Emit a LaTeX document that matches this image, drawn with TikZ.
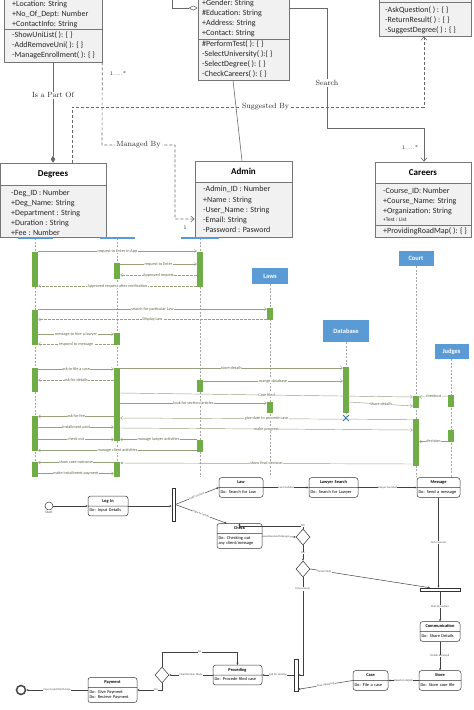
\documentclass[tikz,border=0pt]{standalone}
\usepackage{fontspec}
\setsansfont{Carlito}
\usetikzlibrary{arrows.meta}
\usetikzlibrary{calc, fit, shapes.geometric, shapes.multipart, shapes.misc}

\definecolor{boxline}{RGB}{118,118,118}
\definecolor{boxfill}{RGB}{241,241,241}
\definecolor{relline}{RGB}{105,105,105}
\definecolor{seqblue}{RGB}{91,155,213}
\definecolor{actgreen}{RGB}{112,173,71}
\definecolor{msgline}{RGB}{150,160,125}
\definecolor{msgtext}{RGB}{95,105,75}
\definecolor{lifegray}{RGB}{165,165,165}
\definecolor{xblue}{RGB}{46,117,182}

\begin{document}
\begin{tikzpicture}[x=1pt, y=-1pt,
    classbox/.style={draw=boxline, fill=boxfill, line width=0.6pt, inner sep=0pt},
    classhead/.style={draw=boxline, fill=white, line width=0.6pt},
    attr/.style={anchor=west, inner sep=0pt, text=black!85, font=\sffamily\fontsize{8}{9}\selectfont},
    ctitle/.style={inner sep=0pt, font=\sffamily\bfseries\fontsize{9}{10}\selectfont},
    rel/.style={draw=relline, line width=0.6pt},
    dep/.style={rel, dash pattern=on 3pt off 2pt},
    rellabel/.style={fill=white, inner sep=1pt, text=black!85, font=\fontsize{7.5}{9}\selectfont},
    mult/.style={inner sep=0pt, text=black!85, font=\fontsize{5.5}{6}\selectfont},
    lifeline/.style={draw=lifegray, dash pattern=on 2pt off 1.5pt, line width=0.5pt},
    seqhead/.style={fill=seqblue, text=white, inner sep=0pt, font=\sffamily\bfseries\fontsize{6.5}{7}\selectfont},
    activation/.style={fill=actgreen, minimum width=6pt, inner sep=0pt},
    msg/.style={draw=msgline, line width=0.45pt, -{Straight Barb[length=2pt, width=3.2pt]}},
    ret/.style={msg, dash pattern=on 2.5pt off 1.5pt},
    msglabel/.style={fill=white, inner sep=0.5pt, text=msgtext, font=\sffamily\fontsize{4.2}{5}\selectfont},
    actstate/.style={rectangle split, rectangle split parts=2, draw=black!80, fill=white, rounded corners=2.5pt, line width=0.5pt, inner xsep=1.5pt, inner ysep=2pt, font=\sffamily\fontsize{4.4}{5.3}\selectfont},
    syncbar/.style={draw=black!80, fill=white, line width=0.5pt, inner sep=0pt},
    choice/.style={diamond, draw=black!80, fill=white, line width=0.5pt, minimum width=14pt, minimum height=16pt, inner sep=0pt},
    flow/.style={draw=black!75, line width=0.5pt, -{Stealth[length=2.2pt, width=2pt]}},
    flowlabel/.style={fill=white, inner sep=0.4pt, text=black!70, font=\sffamily\fontsize{2.8}{3.2}\selectfont}]

\useasboundingbox (0,0) rectangle (474,710);
\clip (0,0) rectangle (474,710);

% ---------- class diagram ----------
\node[classbox, fit={(4,-12) (102,62)}] (uni) {}; % university
\draw[boxline, line width=0.6pt] (4,29) -- (102,29);
\node[attr] (uni1) at (12,4) {+Location: String};
\node[attr] (uni2) at (12,14) {+No\_Of\_Dept: Number};
\node[attr] (uni3) at (12,24) {+ContactInfo: String};
\node[attr] (uni4) at (12,35) {-ShowUniList( ): \{ \}};
\node[attr] (uni5) at (12,45) {-AddRemoveUni( ): \{ \}};
\node[attr] (uni6) at (12,55) {-ManageEnrollment( ): \{ \}};

\node[classbox, fit={(198,-12) (289,80)}] (user) {}; % user
\draw[boxline, line width=0.6pt] (198,39) -- (289,39);
\node[attr] (user1) at (202,3) {+Gender: String};
\node[attr] (user2) at (202,13) {\#Education: String};
\node[attr] (user3) at (202,23) {+Address: String};
\node[attr] (user4) at (202,33) {+Contact: String};
\node[attr] (user5) at (202,44) {\#PerformTest( ): \{ \}};
\node[attr] (user6) at (202,54) {-SelectUniversity( ):\{ \}};
\node[attr] (user7) at (202,64) {-SelectDegree( ): \{ \}};
\node[attr] (user8) at (202,74) {-CheckCareers( ): \{ \}};

\node[classbox, fit={(379,-12) (471,36)}] (quiz) {}; % questionnaire
\draw[boxline, line width=0.6pt] (379,2.5) -- (471,2.5);
\node[attr] (quiz1) at (385,10) {-AskQuestion( ) : \{ \}};
\node[attr] (quiz2) at (385,20) {-ReturnResult( ) : \{ \}};
\node[attr] (quiz3) at (385,30) {-SuggestDegree( ) : \{ \}};

\node[classbox, fit={(0.5,163) (106,237)}] (degrees) {}; % degrees
\draw[classhead] (0.5,163) rectangle (106,185);
\node[ctitle] (degt) at (53,174) {Degrees};
\node[attr] (deg1) at (11,193) {-Deg\_ID : Number};
\node[attr] (deg2) at (11,203) {+Deg\_Name: String};
\node[attr] (deg3) at (11,213) {+Department : String};
\node[attr] (deg4) at (11,223) {+Duration : String};
\node[attr] (deg5) at (11,233) {+Fee : Number};

\node[classbox, fit={(195,161) (292,237)}] (admin) {}; % admin
\draw[classhead] (195,161) rectangle (292,182);
\node[ctitle] (admt) at (243.5,171.5) {Admin};
\node[attr] (adm1) at (203,189) {-Admin\_ID : Number};
\node[attr] (adm2) at (203,200) {+Name : String};
\node[attr] (adm3) at (203,210) {-User\_Name : String};
\node[attr] (adm4) at (203,220) {-Email: String};
\node[attr] (adm5) at (203,230) {-Password : Pasword};

\node[classbox, fit={(375,162) (471,237)}] (careers) {}; % careers
\draw[classhead] (375,162) rectangle (471,183);
\draw[boxline, line width=0.6pt] (375,225) -- (471,225);
\node[ctitle] (cart) at (423,172.5) {Careers};
\node[attr] (car1) at (383,191) {-Course\_ID: Number};
\node[attr] (car2) at (383,201) {+Course\_Name: String};
\node[attr] (car3) at (383,211) {+Organization: String};
\node[attr, font=\sffamily\fontsize{5.5}{6}\selectfont] (car4) at (383,219.5) {+Test : List};
\node[attr] (car5) at (383,231) {+ProvidingRoadMap( ): \{ \}};

% relations
\coordinate (partx) at (53,100);
\draw[rel, {Diamond[length=7pt, width=4.5pt]}-] (degrees.north -| partx) -- node[rellabel, pos=0.67] {Is a Part Of} (uni.south -| partx);

\coordinate (sugg1) at (72,107);
\coordinate (sugg2) at (424,107);
\draw[dep, -{Straight Barb[length=3.5pt, width=6pt]}] (degrees.north -| sugg1) -- (sugg1) -- node[rellabel, pos=0.55] {Suggested By} (sugg2) -- (quiz.south -| sugg2);

\coordinate (mng1) at (102,145);
\coordinate (mng2) at (175,219);
\draw[dep, -{Straight Barb[length=3.5pt, width=6pt]}] (uni.south east) -- (mng1) -| node[rellabel, pos=0.25] {Managed By} (mng2) -- (admin.west |- mng2);
\node[mult] (mlt1) at (118,73) {1.....*};
\node[mult] (mlt2) at (185,228) {1};

\coordinate (srch1) at (327,8);
\coordinate (srch2) at (424,128);
\draw[rel, -{Straight Barb[length=3.5pt, width=6pt]}] (user.east |- srch1) -- (srch1) -- node[rellabel, pos=0.625] {Search} (srch1 |- srch2) -- (srch2) -- (careers.north -| srch2);
\node[mult] (mlt3) at (410,147) {1.....*};

\coordinate (agg) at (172,-5);
\draw[rel, -{Diamond[open, length=9pt, width=5pt]}] (agg) |- (user.west |- srch1);
\draw[rel] ([xshift=-10.5pt]user.south) -- ([xshift=-1.5pt]admin.north);

% ---------- sequence diagram ----------
\begin{scope}
\clip (0,236) rectangle (474,476.5);
\coordinate (hd1) at (35,238);
\coordinate (hd2) at (117,238);
\coordinate (hd3) at (200,238);
\coordinate (seqend) at (0,478);
\node[seqhead, minimum width=36pt, minimum height=16pt] (laws) at (270,276) {Laws};
\node[seqhead, minimum width=35pt, minimum height=15pt] (court) at (416,258.5) {Court};
\node[seqhead, minimum width=46pt, minimum height=22pt] (db) at (346,331) {Database};
\node[seqhead, minimum width=34pt, minimum height=15pt] (judges) at (451.5,351.5) {Judges};
\node[cross out, draw=xblue, line width=0.9pt, minimum size=5pt, inner sep=0pt] (dbx) at (346,418) {};

\draw[lifeline] (hd1) -- (hd1 |- seqend);
\draw[lifeline] (hd2) -- (hd2 |- seqend);
\draw[lifeline] (hd3) -- (hd3 |- seqend);
\draw[lifeline] (laws.south) -- (laws.south |- seqend);
\draw[lifeline] (court.south) -- (court.south |- seqend);
\draw[lifeline] (db.south) -- (dbx.center);
\draw[lifeline] (judges.south) -- (judges.south |- seqend);
\draw[seqblue, line width=1.2pt] ([xshift=-17.5pt]hd1) -- ([xshift=17.5pt]hd1);
\draw[seqblue, line width=1.2pt] ([xshift=-17.5pt]hd2) -- ([xshift=17.5pt]hd2);
\draw[seqblue, line width=1.2pt] ([xshift=-19pt]hd3) -- ([xshift=19pt]hd3);

\node[activation, minimum height=35pt] (a11) at (35,269.5) {};
\node[activation, minimum height=35pt] (a12) at (35,327.5) {};
\node[activation, minimum height=24pt] (a13) at (35,380) {};
\node[activation, minimum height=35pt] (a14) at (35,433.5) {};
\node[activation, minimum height=18pt] (a15) at (35,471) {};
\node[activation, minimum height=16pt] (a21) at (117,271) {};
\node[activation, minimum height=12pt] (a22) at (117,339) {};
\node[activation, minimum height=73pt] (a23) at (117,404.5) {};
\node[activation, minimum height=18pt] (a24) at (117,471) {};
\node[activation, minimum height=35pt] (a31) at (200,269.5) {};
\node[activation, minimum height=12pt] (a32) at (200,386) {};
\node[activation, minimum height=12pt] (a33) at (200,445.5) {};
\node[activation, minimum height=12pt] (w1) at (270,314) {};
\node[activation, minimum height=11pt] (w2) at (270,407.5) {};
\node[activation, minimum height=46pt] (b1) at (346,390) {};
\node[activation, minimum height=12pt] (c1) at (416,402) {};
\node[activation, minimum height=47pt] (c2) at (416,442.5) {};
\node[activation, minimum height=12pt] (j1) at (451,401) {};
\node[activation, minimum height=12pt] (j2) at (451,436) {};

\draw[msg] (a11.east |- 0,251) -- node[msglabel] {request to Enter in App} (a31.west |- 0,251);
\draw[msg] (a21.east |- 0,264) -- node[msglabel] {request to Enter} (a31.west |- 0,264);
\draw[ret] (a31.west |- 0,275) -- node[msglabel] {Approved request} (a21.east |- 0,275);
\draw[ret] (a31.west |- 0,286) -- node[msglabel] {Approved request after verification} (a11.east |- 0,286);
\draw[msg] (a12.east |- 0,309) -- node[msglabel] {search for particular Law} (w1.west |- 0,309);
\draw[ret] (w1.west |- 0,319.5) -- node[msglabel] {Display Law} (a12.east |- 0,319.5);
\draw[msg] (a12.east |- 0,334) -- node[msglabel] {message to hire a lawyer} (a22.west |- 0,334);
\draw[ret] (a22.west |- 0,344) -- node[msglabel] {respond to message} (a12.east |- 0,344);
\draw[msg] (a13.east |- 0,369) -- node[msglabel] {ask to file a case} (a23.west |- 0,369);
\draw[msg] (a23.east |- 0,368) -- node[msglabel] {store details} (b1.west |- 0,368);
\draw[ret] (a23.west |- 0,380) -- node[msglabel] {ask for details} (a13.east |- 0,380);
\draw[msg] (a32.east |- 0,381) -- node[msglabel] {mange database} (b1.west |- 0,381);
\draw[msg] (a23.east |- 0,393) -- node[msglabel] {Case filed} (c1.west |- 0,397);
\draw[msg] (a23.east |- 0,403) -- node[msglabel] {look for section/articles} (w2.west |- 0,403);
\draw[msg] (b1.east |- 0,402) -- node[msglabel] {Share details} (c1.west |- 0,406);
\draw[msg] (j1.west |- 0,396) -- node[msglabel] {checkout} (c1.east |- 0,397);
\draw[msg] (a23.west |- 0,416.5) -- node[msglabel] {ask for fee} (a14.east |- 0,416.5);
\draw[msg] (c2.west |- 0,419.5) -- node[msglabel] {give date to procede case} (a23.east |- 0,418);
\draw[msg] (a14.east |- 0,427) -- node[msglabel] {Installment paid} (a23.west |- 0,427);
\draw[msg] (a23.east |- 0,428) -- node[msglabel] {make progress} (c2.west |- 0,430);
\draw[msg] (a14.east |- 0,439.5) -- node[msglabel] {check out} (a23.west |- 0,439.5);
\draw[msg] (a33.west |- 0,439.5) -- node[msglabel] {manage lawyer activities} (a23.east |- 0,439.5);
\draw[msg] (j2.west |- 0,441.5) -- node[msglabel] {decision} (c2.east |- 0,441.5);
\draw[msg] (a33.west |- 0,450.5) -- node[msglabel] {manage client activities} (a14.east |- 0,450.5);
\draw[msg] (a24.west |- 0,462.5) -- node[msglabel] {show case outcome} (a15.east |- 0,462.5);
\draw[draw=msgline, line width=0.45pt, -{Latex[length=2.5pt, width=2.5pt]}] (c2.west |- 0,464) -- node[msglabel] {show final decision} (a24.east |- 0,463);
\draw[msg] (a15.east |- 0,473.5) -- node[msglabel] {make installment payment} (a24.west |- 0,473.5);
\end{scope}

% ---------- activity diagram ----------
\node[circle, draw=black!80, fill=white, line width=0.5pt, minimum size=8pt, inner sep=0pt,
      label={[flowlabel, font=\sffamily\fontsize{3.6}{4}\selectfont, inner sep=0.6pt]below:Start}] (start) at (49,506) {};
\node[actstate, text width=37pt] (login) at (108,506) {\centering\textbf{Log In}\strut\par\nodepart{two}Do: Input Details\strut};
\node[syncbar, minimum width=3pt, minimum height=33pt] (fork1) at (173.5,504.5) {};
\node[actstate, text width=41pt] (law) at (241,487.5) {\centering\textbf{Law}\strut\par\nodepart{two}Do: Search for Law\strut};
\node[actstate, text width=46pt] (lsearch) at (333.5,487.5) {\centering\textbf{Lawyer Search}\strut\par\nodepart{two}Do: Search for Lawyer\strut};
\node[actstate, text width=40pt] (message) at (438.5,487.5) {\centering\textbf{Message}\strut\par\nodepart{two}Do: Send a message\strut};
\node[actstate, text width=42pt] (check) at (239.5,536) {\centering\textbf{Check}\strut\par\nodepart{two}Do: Checking out\strut\\any client/message\strut};
\node[choice] (d1) at (303,537) {};
\node[choice] (d2) at (303,569) {};
\node[syncbar, minimum width=40pt, minimum height=3pt] (join1) at (440,589.5) {};
\node[actstate, text width=37pt] (comm) at (440,631.5) {\centering\textbf{Communication}\strut\par\nodepart{two}Do: Share Details\strut};
\node[actstate, text width=39pt] (store) at (440,680.5) {\centering\textbf{Store}\strut\par\nodepart{two}Do: Store case file\strut};
\node[actstate, text width=32pt] (case) at (370.5,680.5) {\centering\textbf{Case}\strut\par\nodepart{two}Do: File a case\strut};
\node[syncbar, minimum width=4pt, minimum height=32pt] (fork2) at (296,675) {};
\node[actstate, text width=46pt] (proc) at (237.5,675) {\centering\textbf{Proceding}\strut\par\nodepart{two}Do: Procede filed case\strut};
\node[choice] (d3) at (162,675) {};
\node[actstate, text width=46pt] (payment) at (112.5,690) {\centering\textbf{Payment}\strut\par\nodepart{two}Do: Give Payment\strut\\Do: Recieve Payment\strut};
\node[circle, draw=black!70, fill=white, line width=1.6pt, minimum size=9pt, inner sep=0pt] (finish) at (21,690) {};

\draw[flow] (start) -- (login);
\draw[flow] (login.east) -- (fork1.west |- login.east);
\draw[flow] (fork1.east) -- node[flowlabel, sloped] {Login as Client} (law.west);
\draw[flow] (fork1.east) -- node[flowlabel, sloped] {Login as Lawyer} ([xshift=10pt]check.north west);
\draw[flow] (law) -- node[flowlabel] {Law Founded} (lsearch);
\draw[flow] (lsearch) -- node[flowlabel] {Lawyer Founded} (message);
\draw[flow] (check.east) -- node[flowlabel] {Received Message} (d1.west);
\draw[flow] (d1.north) -- ++(0,-3) node[flowlabel] {NO} -| (check.north);
\draw[flow] (d1) -- node[flowlabel] {Yes} (d2);
\draw[flow] (d2.east) -- node[flowlabel, pos=0.12] {From Client} ([xshift=-10pt]join1.north);
\draw[flow] (d2.south) |- node[flowlabel, pos=0.06] {From Lawyer} (fork2.east);
\draw[flow] (message.south) -- node[flowlabel] {Get response} (message.south |- join1.north);
\draw[flow] (join1.south -| comm.north) -- node[flowlabel] {Start Procedure} (comm.north);
\draw[flow] (comm) -- node[flowlabel] {Details Received} (store);
\draw[flow] (store) -- node[flowlabel] {Based on details} (case);
\draw[flow] (case.west) -- node[flowlabel, sloped] {Case registered} ([yshift=2pt]fork2.south east);
\draw[flow] (fork2.west) -- node[flowlabel] {Call for Hearing} (proc.east);
\draw[flow] (proc.west) -- node[flowlabel] {Final Decision Made} (d3.east);
\draw[flow] (d3.north) -- ++(0,-15) -| node[flowlabel, pos=0.25] {No} (proc.north);
\draw[flow] (d3.south) |- node[flowlabel, pos=0.62] {Yes} (payment.east);
\draw[flow] (payment.west) -- node[flowlabel] {Case closed/Finish Case} (finish);
\end{tikzpicture}
\end{document}
